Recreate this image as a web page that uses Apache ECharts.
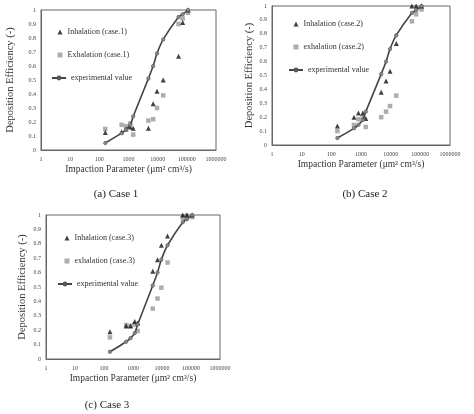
<!DOCTYPE html>
<html>
<head>
<meta charset="utf-8">
<script src="https://cdn.jsdelivr.net/npm/echarts@6/dist/echarts.min.js"></script>
<style>
    html, body { margin: 0; padding: 0; background: #fff; }
    #chart { width: 474px; height: 414px; }
</style>
</head>
<body>
<div id="chart"></div>
<script>
// impaction parameter (um2 cm3/s), shared by every panel
var impaction = [160, 580, 820, 1150, 1450, 4800, 7000, 9500, 15500, 52000, 72000, 110000];

// experimental value (same curve in the three panels)
var experimental = [0.05, 0.12, 0.145, 0.18, 0.24, 0.51, 0.60, 0.69, 0.79, 0.95, 0.97, 1.0];

// case 1
var inhal1 = [0.125, 0.13, 0.15, 0.165, 0.155, 0.155, 0.33, 0.42, 0.50, 0.67, 0.91, 1.0];
var exhal1 = [0.15, 0.18, 0.17, 0.19, 0.11, 0.21, 0.22, 0.30, 0.39, 0.90, 0.94, 0.98];

// case 2
var inhal2 = [0.137, 0.20, 0.23, 0.23, 0.19, 0.38, 0.46, 0.53, 0.73, 1.0, 1.0, 1.0];
var exhal2 = [0.10, 0.144, 0.185, 0.20, 0.13, 0.20, 0.24, 0.28, 0.355, 0.89, 0.94, 0.975];

// case 3
var inhal3 = [0.19, 0.23, 0.23, 0.26, 0.25, 0.61, 0.69, 0.79, 0.855, 1.0, 1.0, 1.0];
var exhal3 = [0.15, 0.235, 0.23, 0.24, 0.195, 0.35, 0.42, 0.495, 0.67, 0.98, 0.995, 0.985];

var yTicks = ['0', '0.1', '0.2', '0.3', '0.4', '0.5', '0.6', '0.7', '0.8', '0.9', '1'];

var panels = [
    {inhalName: 'Inhalation (case.1)', exhalName: 'Exhalation (case.1)', inhal: inhal1, exhal: exhal1, caption: '(a) Case 1'},
    {inhalName: 'Inhalation (case.2)', exhalName: 'exhalation (case.2)', inhal: inhal2, exhal: exhal2, caption: '(b) Case 2'},
    {inhalName: 'Inhalation (case.3)', exhalName: 'exhalation (case.3)', inhal: inhal3, exhal: exhal3, caption: '(c) Case 3'}
];

// layout of each panel (symX / lineX = left of legend icons, legY = centre of first legend row)
var boxes = [
    {left: 41, top: 10, width: 175, height: 140, symX: 57.5, lineX: 51, legY: 32, capX: 116, capY: 189, yGap: 25},
    {left: 272, top: 6, width: 178, height: 139, symX: 293.5, lineX: 288, legY: 24, capX: 365, capY: 189, yGap: 17},
    {left: 46, top: 215, width: 174, height: 144, symX: 64.5, lineX: 57, legY: 238, capX: 107, capY: 400, yGap: 18}
];

var FONT = 'Liberation Serif';

function pairs(ys) {
    var out = [];
    for (var i = 0; i < impaction.length; i++) {
        out.push([impaction[i], ys[i]]);
    }
    return out;
}

var grid = [], xAxis = [], yAxis = [], series = [], legend = [], title = [];

panels.forEach(function (p, i) {
    var b = boxes[i];
    grid.push({
        left: b.left, top: b.top, width: b.width, height: b.height,
        show: true, borderColor: '#666', borderWidth: 1, backgroundColor: 'transparent'
    });
    xAxis.push({
        gridIndex: i,
        type: 'log',
        logBase: 10,
        min: 1,
        max: 1000000,
        name: 'Impaction Parameter (μm² cm³/s)',
        nameLocation: 'middle',
        nameGap: 14,
        nameTextStyle: {fontFamily: FONT, fontSize: 9.5, color: '#333'},
        axisLine: {show: true, lineStyle: {color: '#666'}},
        axisTick: {show: false},
        splitLine: {show: false},
        axisLabel: {
            fontFamily: FONT, fontSize: 6, color: '#444', margin: 6,
            formatter: function (v) { return String(Math.round(v)); }
        }
    });
    yAxis.push({
        gridIndex: i,
        type: 'value',
        min: 0,
        max: 1,
        interval: 0.1,
        name: 'Deposition Efficiency (-)',
        nameLocation: 'middle',
        nameGap: b.yGap,
        nameTextStyle: {fontFamily: FONT, fontSize: 10.5, color: '#333'},
        axisLine: {show: true, lineStyle: {color: '#666'}},
        axisTick: {show: false},
        splitLine: {show: false},
        axisLabel: {
            fontFamily: FONT, fontSize: 6, color: '#444', margin: 5,
            formatter: function (v) { return yTicks[Math.round(v * 10)]; }
        }
    });
    series.push({
        name: p.inhalName,
        type: 'scatter',
        xAxisIndex: i, yAxisIndex: i,
        symbol: 'triangle',
        symbolSize: 5,
        itemStyle: {color: '#111'},
        data: pairs(p.inhal),
        z: 3
    });
    series.push({
        name: p.exhalName,
        type: 'scatter',
        xAxisIndex: i, yAxisIndex: i,
        symbol: 'rect',
        symbolSize: 4.5,
        itemStyle: {color: '#999'},
        data: pairs(p.exhal),
        z: 2
    });
    series.push({
        name: 'experimental value',
        type: 'line',
        xAxisIndex: i, yAxisIndex: i,
        smooth: 0.3,
        symbol: 'circle',
        symbolSize: 3.5,
        showSymbol: true,
        lineStyle: {color: '#444', width: 1.6},
        itemStyle: {color: '#888', borderColor: '#555', borderWidth: 0.6},
        data: pairs(experimental),
        z: 4
    });
    // marker legend (small icons)
    legend.push({
        left: b.symX,
        top: b.legY - 4,
        padding: 0,
        orient: 'vertical',
        itemWidth: 5,
        itemHeight: 5,
        itemGap: 15,
        textStyle: {fontFamily: FONT, fontSize: 8, color: '#333'},
        data: [
            {name: p.inhalName, icon: 'triangle', itemStyle: {color: '#111'}},
            {name: p.exhalName, icon: 'rect', itemStyle: {color: '#999'}}
        ]
    });
    // line legend
    legend.push({
        left: b.lineX,
        top: b.legY + 46 - 4,
        padding: 0,
        orient: 'vertical',
        itemWidth: 14,
        itemHeight: 3.5,
        textStyle: {fontFamily: FONT, fontSize: 8, color: '#333'},
        data: [{name: 'experimental value'}]
    });
    title.push({
        text: p.caption,
        left: b.capX,
        top: b.capY,
        textAlign: 'center',
        padding: 0,
        textStyle: {fontFamily: FONT, fontSize: 11, fontWeight: 'normal', color: '#222'}
    });
});

var myChart = echarts.init(document.getElementById('chart'), null, {renderer: 'canvas'});
myChart.setOption({
    animation: false,
    backgroundColor: '#fff',
    title: title,
    legend: legend,
    grid: grid,
    xAxis: xAxis,
    yAxis: yAxis,
    series: series
});
</script>
</body>
</html>
